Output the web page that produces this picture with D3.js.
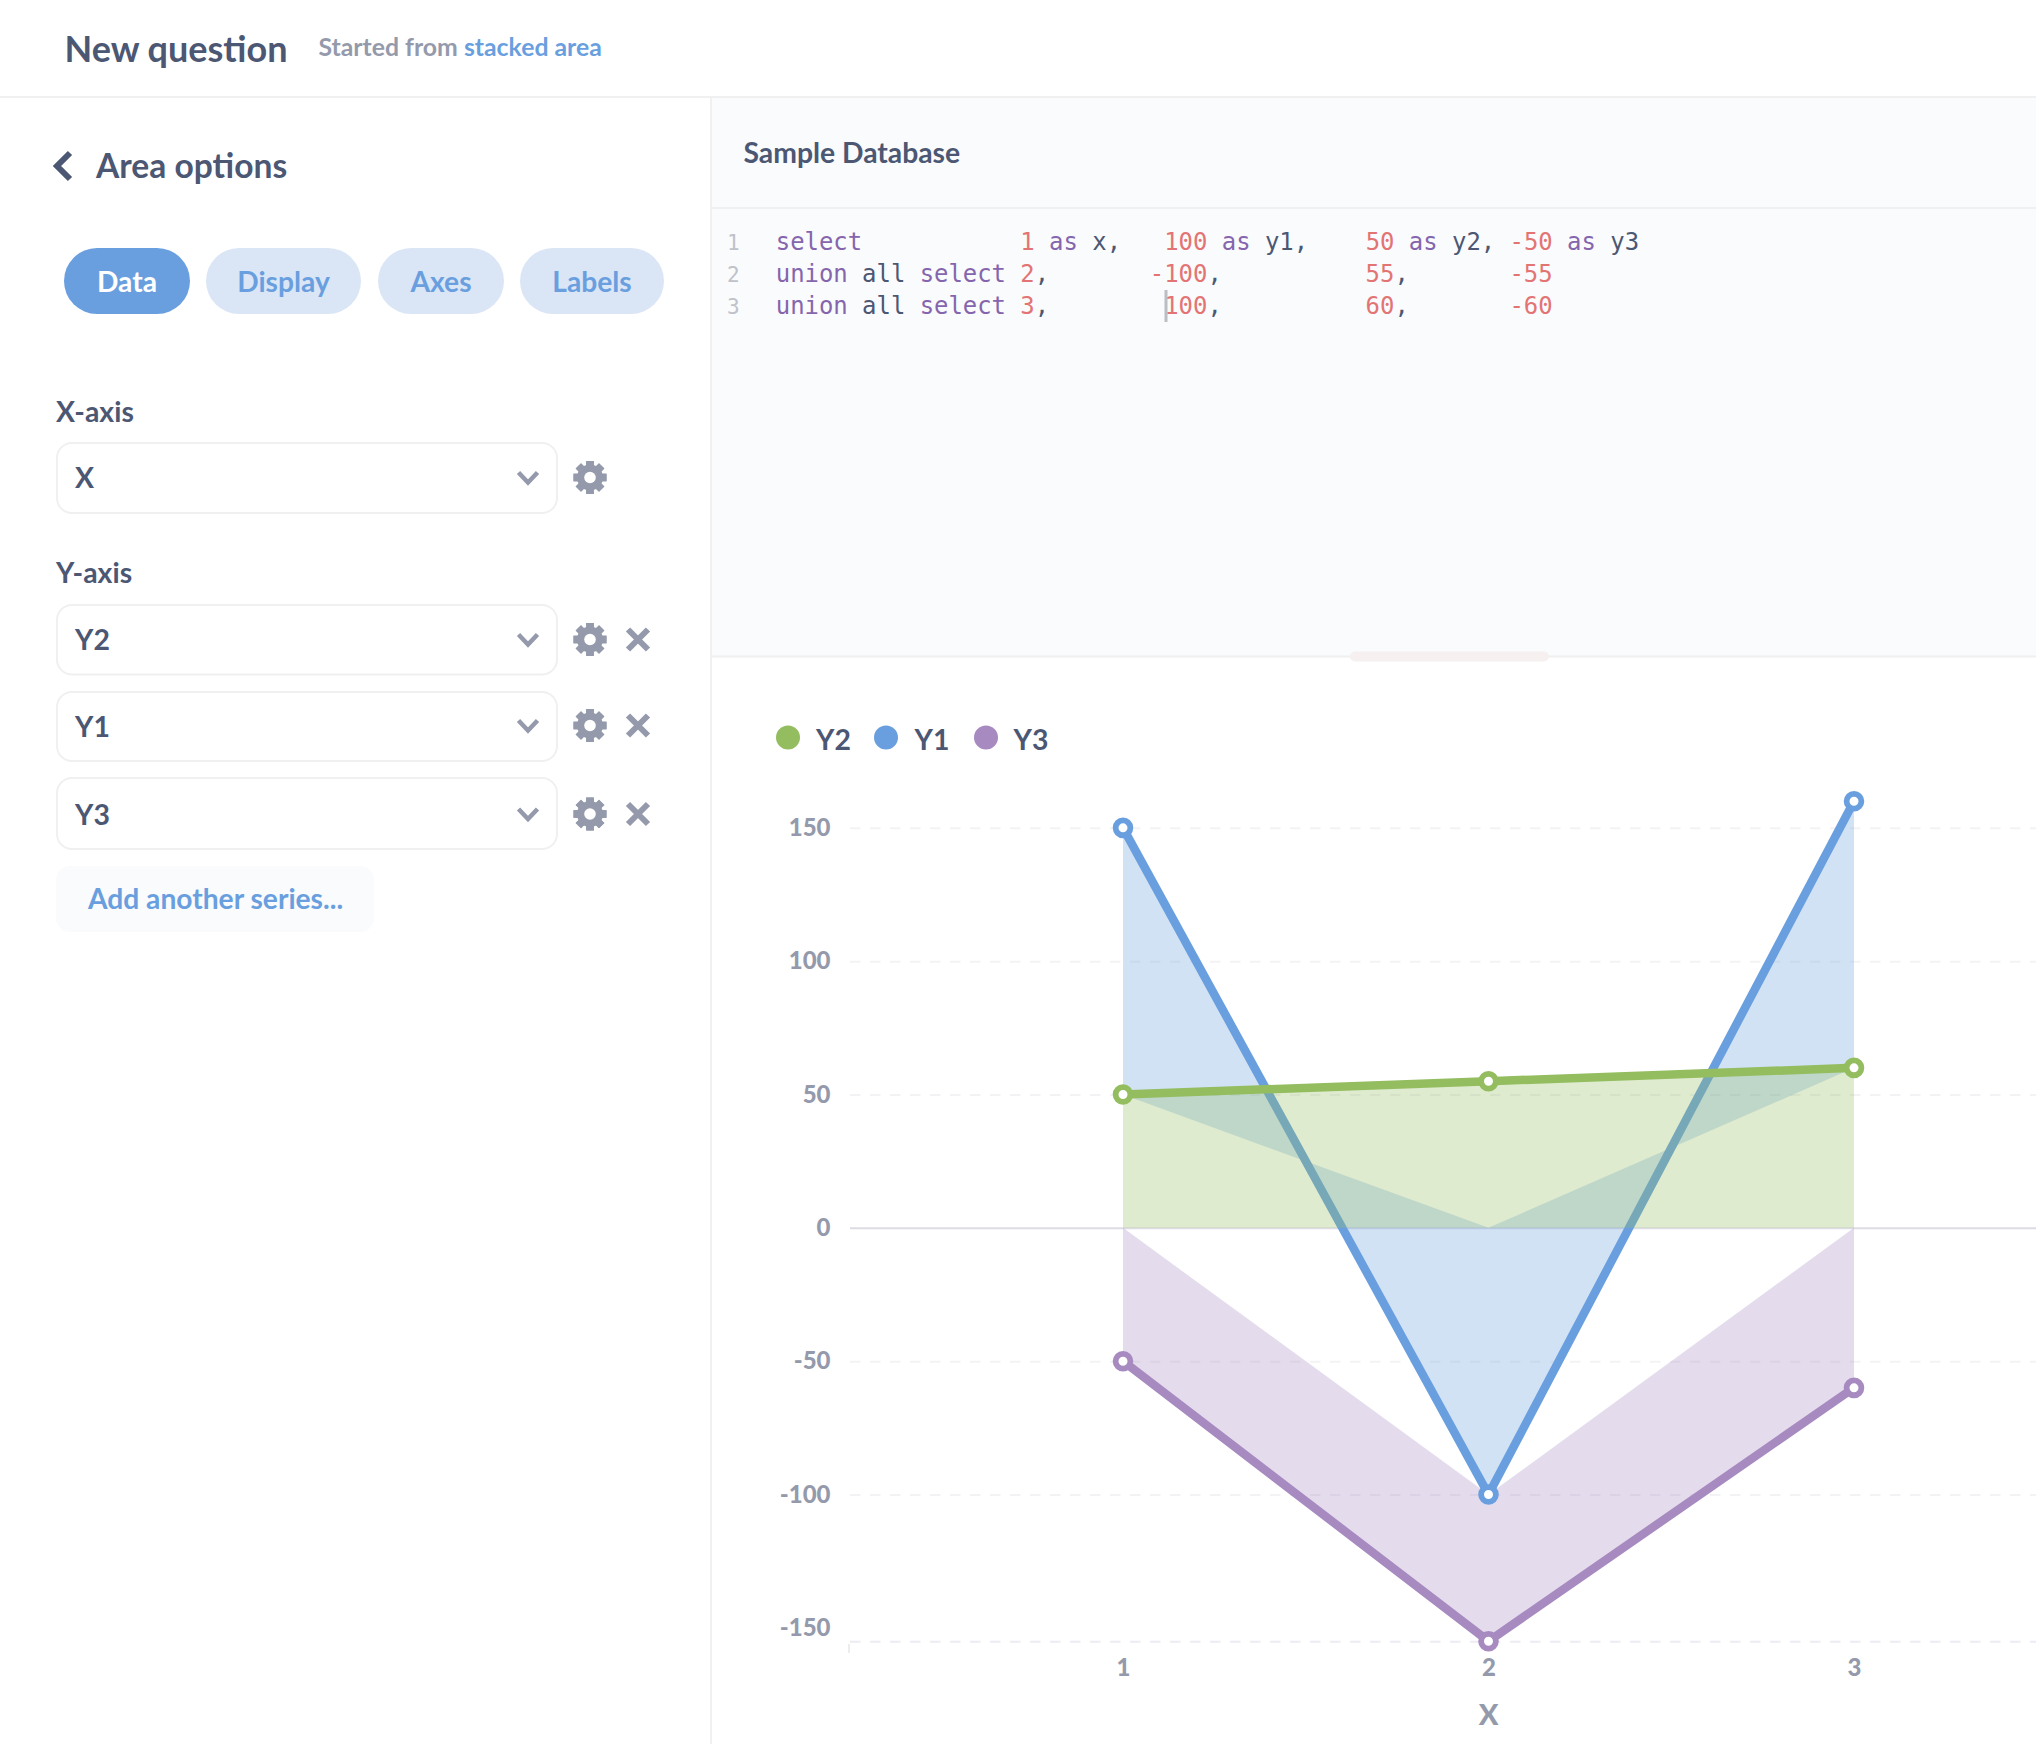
<!DOCTYPE html>
<html><head><meta charset="utf-8">
<script src="https://cdn.jsdelivr.net/npm/d3@7"></script>
<style>
html,body{margin:0;padding:0;background:#fff}
svg{display:block}
text{font-family:Lato,sans-serif;font-weight:700}
.mono{font-family:"DejaVu Sans Mono",monospace;font-weight:400;font-size:23.9px;white-space:pre}
</style></head><body>
<script>
// ---- chart data
const xValues = [1, 2, 3];
const seriesNames = ["Y2", "Y1", "Y3"];
const y1Values = [100, -100, 100];
const y2Values = [50, 55, 60];
const y3Values = [-50, -55, -60];
const yTicks = [150, 100, 50, 0, -50, -100, -150];
const gridValues = [150, 100, 50, -50, -100];
const yBottom = -155, yTop = 160;
const sqlLines = [
 "select           1 as x,   100 as y1,    50 as y2, -50 as y3",
 "union all select 2,       -100,          55,       -55",
 "union all select 3,        100,          60,       -60"
];
const tabNames = ["Data", "Display", "Axes", "Labels"];

const C = {text:"#4C5773", med:"#949AAB", light:"#BFC2CA", blue:"#6A9FDF", green:"#93BD5F", purple:"#A78AC0",
           border:"#F0F0F0", panel:"#F9FBFC", tab:"#DAE6F6", grid:"#F3F3F5", zero:"#DCDCE4", kw:"#8565AD", num:"#E37474"};
const seriesColor = {Y1:C.blue, Y2:C.green, Y3:C.purple};

const svg = d3.select("body").append("svg").attr("width",2036).attr("height",1744).attr("viewBox","0 0 2036 1744");
const T = (x,y,s,size,fill,anchor) => svg.append("text").attr("x",x).attr("y",y).attr("font-size",size).attr("fill",fill).attr("text-anchor",anchor||"start").text(s);
const R = (x,y,w,h,fill,rx) => svg.append("rect").attr("x",x).attr("y",y).attr("width",w).attr("height",h).attr("fill",fill).attr("rx",rx||0);

// ---- page chrome
R(711,98,1325,558,C.panel);
R(0,96,2036,2,C.border);
R(710,97,2,1647,C.border);
R(711,207,1325,2,C.border);
R(711,655.5,1325,2,C.border);
R(1350,651.5,199,10,"#F6F0F0",5);

T(64.5,61.5,"New question",36,C.text);
const st = T(318.5,56,"Started from ",24.8,C.med);
st.append("tspan").attr("fill",C.blue).text("stacked area");

svg.append("path").attr("d","M70,153 L57,166 L70,179").attr("fill","none").attr("stroke",C.text).attr("stroke-width",6);
T(96,177.5,"Area options",33.6,C.text);
T(743.5,163,"Sample Database",28.3,C.text);

// tabs
const tabBoxes = [[64,190],[206,361],[378,504],[520,664]];
tabNames.forEach((n,i)=>{
  const [a,b]=tabBoxes[i];
  R(a,248,b-a,66,i==0?C.blue:C.tab,33);
  T((a+b)/2,291.5,n,28.2,i==0?"#fff":C.blue,"middle");
});

const chevron=(cx,cy)=>svg.append("path").attr("d",`M${cx-9.5},${cy-5} L${cx},${cy+5} L${cx+9.5},${cy-5}`).attr("fill","none").attr("stroke",C.med).attr("stroke-width",4.5);
const gear=(cx,cy)=>{
  const g=svg.append("g").attr("transform",`translate(${cx},${cy})`);
  d3.range(8).forEach(i=>g.append("rect").attr("x",-3.8).attr("y",-16.5).attr("width",7.6).attr("height",33).attr("fill",C.med).attr("transform",`rotate(${i*45})`));
  g.append("circle").attr("r",9.5).attr("fill","none").attr("stroke",C.med).attr("stroke-width",7);
  g.append("circle").attr("r",5.8).attr("fill","#fff");
};
const cross=(cx,cy)=>svg.append("path").attr("d",`M${cx-10},${cy-10} L${cx+10},${cy+10} M${cx+10},${cy-10} L${cx-10},${cy+10}`).attr("stroke",C.med).attr("stroke-width",6);
const selectBox=(boxTop,boxBottom,label,base,mid,rm)=>{
  svg.append("rect").attr("x",57).attr("y",boxTop).attr("width",500).attr("height",boxBottom-boxTop).attr("rx",15).attr("fill","#fff").attr("stroke",C.border).attr("stroke-width",2);
  T(75,base,label,28.4,C.text);
  chevron(528,mid);
  gear(590,mid);
  if(rm) cross(638,mid);
};
T(56,421.5,"X-axis",28.4,C.text);
selectBox(443,513,"X",487.5,477.5,false);
T(56,583,"Y-axis",28.4,C.text);
selectBox(605,674.5,"Y2",649.5,639.5,true);
selectBox(692,761,"Y1",737,725.5,true);
selectBox(778,849,"Y3",825,814,true);
R(56,866,318,66,C.panel,14);
T(88,909,"Add another series...",28.2,C.blue);

// ---- SQL editor
const codeX = 775.8;
sqlLines.forEach((line,i)=>{
  const by = 250 + i*32;
  svg.append("text").attr("class","mono").attr("x",727).attr("y",by).attr("fill",C.light).style("font-size","21px").text(i+1);
  const t = svg.append("text").attr("class","mono").attr("x",codeX).attr("y",by).attr("xml:space","preserve");
  (line.match(/\s+|-?\d+|[a-z0-9]+|,/g)).forEach(tok=>{
    const fill = /^-?\d+$/.test(tok) ? C.num : /^(select|union|as)$/.test(tok) ? C.kw : C.text;
    t.append("tspan").attr("fill",fill).text(tok);
  });
});
R(1164.5,290,3,32,"#BBBEC4");

// ---- chart
const xScale = d3.scaleLinear().domain([1,3]).range([1123,1854]);
const yScale = d3.scaleLinear().domain([yBottom,yTop]).range([1641.2,801.2]);
const rows = xValues.map((v,i)=>({x:v,Y1:y1Values[i],Y2:y2Values[i],Y3:y3Values[i]}));
const stacked = d3.stack().keys(seriesNames).offset(d3.stackOffsetDiverging)(rows);
const chart = svg.append("g");
const plotLeft=850, plotRight=2036;

// gridlines
const gridAxis = d3.axisLeft(yScale).tickValues(gridValues).tickSize(-(plotRight-plotLeft)).tickFormat("");
const grid = chart.append("g").attr("transform",`translate(${plotLeft},0)`).call(gridAxis);
grid.select(".domain").remove();
grid.selectAll("line").attr("stroke",C.grid).attr("stroke-width",2).attr("stroke-dasharray","10.5 9.5");
const baseG = chart.append("g").attr("transform",`translate(${plotLeft},0)`).call(d3.axisLeft(yScale).tickValues([yBottom]).tickSize(-(plotRight-plotLeft)).tickFormat(""));
baseG.select(".domain").remove();
baseG.selectAll("line").attr("stroke","#ECECF2").attr("stroke-width",2).attr("stroke-dasharray","10.5 9.5");
const zeroG = chart.append("g").attr("transform",`translate(${plotLeft},0)`).call(d3.axisLeft(yScale).tickValues([0]).tickSize(-(plotRight-plotLeft)).tickFormat(""));
zeroG.select(".domain").remove();
zeroG.selectAll("line").attr("stroke",C.zero).attr("stroke-width",2);

// y axis
const ya = chart.append("g").attr("transform","translate(849,0)").call(d3.axisLeft(yScale).tickValues(yTicks).tickFormat(d=>String(d)).tickSize(0).tickPadding(18.5));
ya.select(".domain").remove();
ya.selectAll("text").attr("font-size",24).attr("fill",C.med).attr("font-family","Lato").style("font-weight",900);
// x axis
const xa = chart.append("g").attr("transform","translate(0,1642)").call(d3.axisBottom(xScale).tickValues(xValues).tickFormat(d3.format("d")).tickSize(0).tickPadding(17));
xa.select(".domain").remove();
xa.selectAll("text").attr("font-size",24).attr("fill",C.med).attr("font-family","Lato").style("font-weight",900);
chart.append("line").attr("x1",849).attr("x2",849).attr("y1",1644).attr("y2",1653).attr("stroke","#EDEDED").attr("stroke-width",2);
chart.append("text").attr("x",xScale(2)).attr("y",1725).attr("text-anchor","middle").attr("font-size",29).attr("fill",C.med).style("font-weight",900).text("X");

// series (painted Y3, Y1, Y2)
const upper = (s,i)=> rows[i][s.key]>=0 ? s[i][1] : s[i][0];
const lower = (s,i)=> rows[i][s.key]>=0 ? s[i][0] : s[i][1];
["Y3","Y1","Y2"].forEach(k=>{
  const s = stacked.find(d=>d.key===k);
  const pts = xValues.map((v,i)=>({x:v,t:upper(s,i),b:lower(s,i)}));
  const g = chart.append("g").attr("class","series-"+k);
  g.append("path").attr("d",d3.area().x(d=>xScale(d.x)).y0(d=>yScale(d.b)).y1(d=>yScale(d.t))(pts)).attr("fill",seriesColor[k]).attr("fill-opacity",0.3);
  g.append("path").attr("d",d3.line().x(d=>xScale(d.x)).y(d=>yScale(d.t))(pts)).attr("fill","none").attr("stroke",seriesColor[k]).attr("stroke-width",8.5);
  g.selectAll("circle").data(pts).join("circle").attr("cx",d=>xScale(d.x)).attr("cy",d=>yScale(d.t)).attr("r",7.4).attr("fill","#fff").attr("stroke",seriesColor[k]).attr("stroke-width",5.8);
});

// legend
const legendPos = [[788,816],[886,914.5],[986,1013.5]];
seriesNames.forEach((n,i)=>{
  svg.append("circle").attr("cx",legendPos[i][0]).attr("cy",737.5).attr("r",12).attr("fill",seriesColor[n]);
  T(legendPos[i][1],750,n,28.4,C.text);
});
</script>
</body></html>
